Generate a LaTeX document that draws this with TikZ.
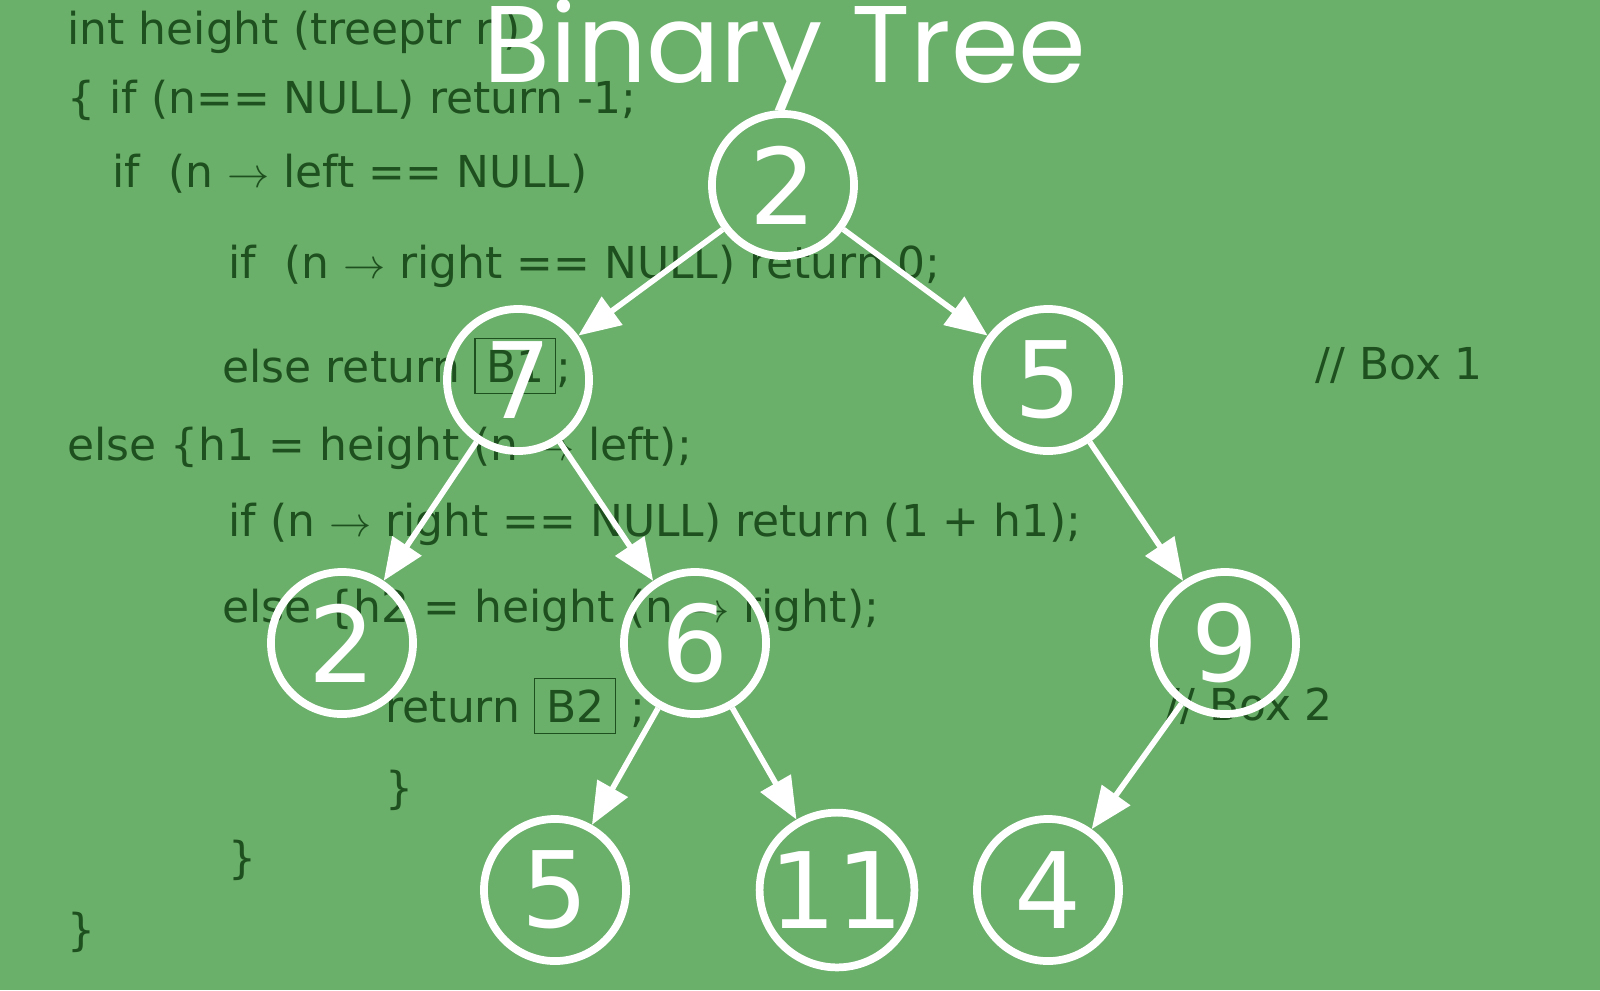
\documentclass[tikz,border=0pt]{standalone}
\usepackage{fontspec}
\setmainfont{DejaVu Sans}
\newfontfamily\titlefont{Poppins}
\usetikzlibrary{arrows.meta, positioning}
\definecolor{bggreen}{HTML}{6AAF6A}
\definecolor{codegreen}{HTML}{1E4F1E}

\begin{document}
\begin{tikzpicture}[
                x=0.01cm, y=-0.01cm,
                treenode/.style={draw=white, circle, line width=2.2pt, minimum size=1.42cm, inner sep=0pt, text=white, font=\fontsize{30}{30}\selectfont},
                codeline/.style={anchor=west, inner sep=0pt, text=codegreen, font=\fontsize{12.5}{14}\selectfont},
                arrow/.style={-{Triangle[length=0.42cm, width=0.34cm]}, draw=white, line width=1.6pt}]
            \fill[bggreen] (0,0) rectangle (1600,990);
            \useasboundingbox (0,0) rectangle (1600,990);

            % Code
            \node[codeline] (c1) at (67,32) {int height (treeptr n)};
            \node[codeline] (c2) at (67,100) {\{ if (n== NULL) return -1;};
            \node[codeline] (c3) at (112,174) {if\ \ (n $\rightarrow$ left == NULL)};
            \node[codeline] (c4) at (228,266) {if\ \ (n $\rightarrow$ right == NULL) return 0;};
            \node[codeline] (c5) at (222,366) {else return \fbox{B1};};
            \node[codeline] (c6) at (67,448) {else \{h1 = height (n $\rightarrow$ left);};
            \node[codeline] (c7) at (228,524) {if (n $\rightarrow$ right == NULL) return (1 + h1);};
            \node[codeline] (c8) at (222,610) {else \{h2 = height (n $\rightarrow$ right);};
            \node[codeline] (c9) at (385,706) {return \fbox{B2}\ ;};
            \node[codeline] (c10) at (385,790) {\}};
            \node[codeline] (c11) at (228,860) {\}};
            \node[codeline] (c12) at (67,932) {\}};
            \node[codeline] (box1) at (1315,366) {// Box 1};
            \node[codeline] (box2) at (1165,706) {// Box 2};

            % Titre
            \node[text=white, font=\titlefont\fontsize{31}{31}\selectfont] (title) at (785,55) {Binary Tree};

            % Arbre
            \node[treenode] (root) at (783,185) {2};
            \node[treenode] (n7) at (518,380) {7};
            \node[treenode] (n5) at (1048,380) {5};
            \node[treenode] (n2) at (342,643) {2};
            \node[treenode] (n6) at (695,643) {6};
            \node[treenode] (n9) at (1225,643) {9};
            \node[treenode] (n5b) at (555,890) {5};
            \node[treenode] (n11) at (837,890) {11};
            \node[treenode] (n4) at (1048,890) {4};

            \draw[arrow] (root) -- (n7);
            \draw[arrow] (root) -- (n5);
            \draw[arrow] (n7) -- (n2);
            \draw[arrow] (n7) -- (n6);
            \draw[arrow] (n5) -- (n9);
            \draw[arrow] (n6) -- (n5b);
            \draw[arrow] (n6) -- (n11);
            \draw[arrow] (n9) -- (n4);

        \end{tikzpicture}
\end{document}
